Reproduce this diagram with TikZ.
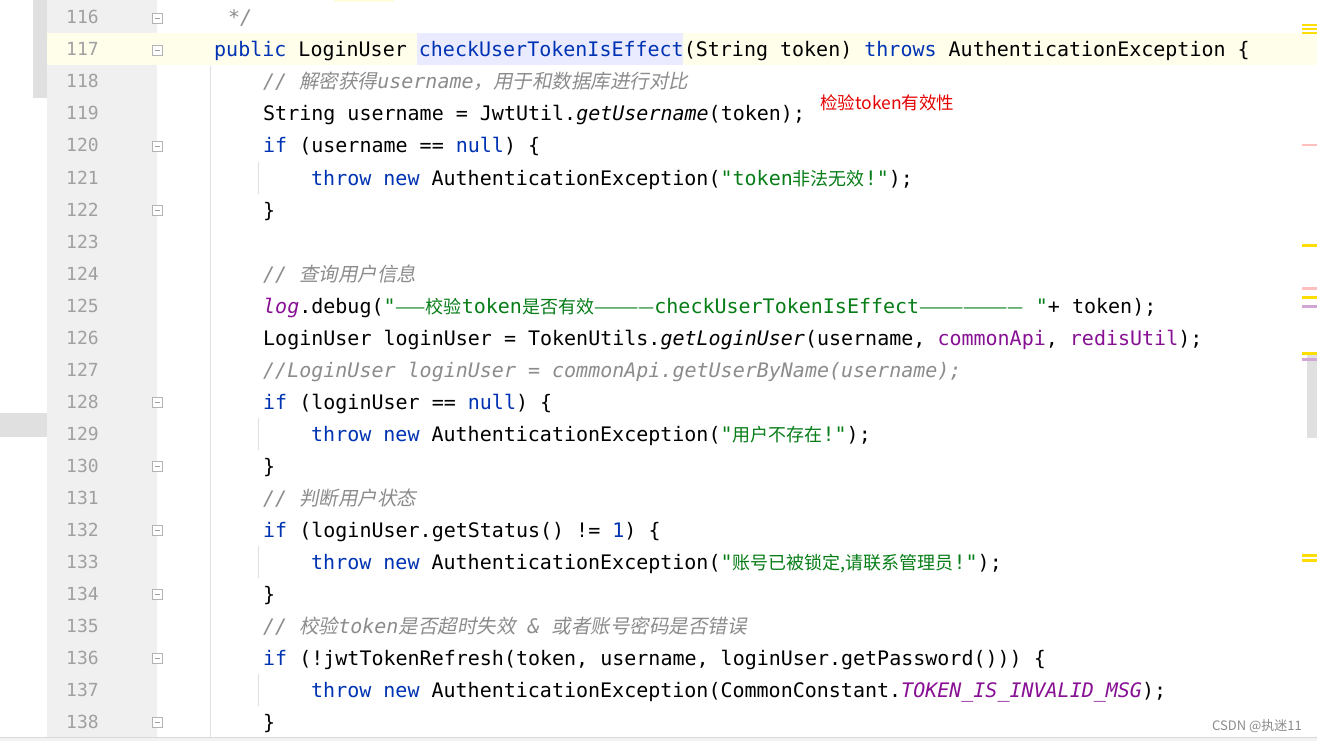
\documentclass[tikz,border=0pt]{standalone}
\usepackage{fontspec}
\setmonofont{DejaVu Sans Mono}
\newfontfamily\cjkf{Noto Sans CJK SC}
\newfontfamily\cjkit[FakeSlant=0.2]{Noto Sans CJK SC}
\definecolor{kwc}{HTML}{0033B3}
\definecolor{strc}{HTML}{067D17}
\definecolor{cmc}{HTML}{8C8C8C}
\definecolor{puc}{HTML}{871094}
\definecolor{lnc}{HTML}{A0A0A0}
\newcommand\kw[1]{\textcolor{kwc}{#1}}
\newcommand\str[1]{\textcolor{strc}{#1}}
\newcommand\pu[1]{\textcolor{puc}{#1}}
\newcommand\cn[1]{{\cjkf\fontsize{18}{20}\selectfont #1}}
\newcommand\cni[1]{{\cjkit\fontsize{19.5}{20}\selectfont #1}}
\begin{document}
\begin{tikzpicture}[x=1pt,y=-1pt,
 code/.style={anchor=base west,inner sep=0pt,font=\ttfamily\fontsize{20}{22}\selectfont},
 cmt/.style={code,text=cmc,font=\ttfamily\itshape\fontsize{20}{22}\selectfont},
 lnum/.style={anchor=base west,inner sep=0pt,text=lnc,font=\ttfamily\fontsize{18}{20}\selectfont},
 fold/.style={draw=lnc!80,fill=white,line width=0.6pt,minimum size=10pt,inner sep=0pt}]
\useasboundingbox (0,0) rectangle (1317,741);
\fill[white] (0,0) rectangle (1317,741);
% gutter
\fill[black!6] (47,0) rectangle (157,741);
\fill[black!12] (33,0) rectangle (47,98);
\fill[black!12] (0,413) rectangle (47,437);
% current line
\fill[yellow!8] (47,33) rectangle (1317,65);
\fill[yellow!12] (334,0) rectangle (394,2);
\fill[blue!8] (417,33) rectangle (683,65);
% indent guides
\draw[black!12,line width=0.8pt] (210,66) -- (210,741);
\foreach \r in {121,129,133,137}{\draw[black!12,line width=0.8pt] (258,{18+(\r-116)*32-16}) -- (258,{18+(\r-116)*32+16});}
% line numbers
\foreach \n in {116,...,138}{\node[lnum] (ln\n) at (66,{18+(\n-116)*32+6}) {\n};}
% fold markers
\foreach \n in {116,117,120,122,128,130,132,134,136,138}{
 \node[fold] (f\n) at (157,{18+(\n-116)*32}) {};
 \draw[lnc] ([xshift=-2.5pt]f\n.center) -- ([xshift=2.5pt]f\n.center);}
% code
\node[cmt] (c116) at (228,25) {*/};
\node[code] (c117) at (214,57) {\kw{public} LoginUser \kw{checkUserTokenIsEffect}(String token) \kw{throws} AuthenticationException \{};
\node[cmt] (c118) at (263,89) {// \cni{解密获得}username\cni{，用于和数据库进行对比}};
\node[code] (c119) at (263,121) {String username = JwtUtil.\textit{getUsername}(token);};
\node[code] (c120) at (263,153) {\kw{if} (username == \kw{null}) \{};
\node[code] (c121) at (311,185) {\kw{throw} \kw{new} AuthenticationException(\str{"token\cn{非法无效}!"});};
\node[code] (c122) at (263,217) {\}};
\node[cmt] (c124) at (263,281) {// \cni{查询用户信息}};
\node[code] (c125) at (263,313) {\pu{\textit{log}}.debug(\str{"\cn{——校验}token\cn{是否有效————}checkUserTokenIsEffect\cn{———————} "}+ token);};
\node[code] (c126) at (263,345) {LoginUser loginUser = TokenUtils.\textit{getLoginUser}(username, \pu{commonApi}, \pu{redisUtil});};
\node[cmt] (c127) at (263,377) {//LoginUser loginUser = commonApi.getUserByName(username);};
\node[code] (c128) at (263,409) {\kw{if} (loginUser == \kw{null}) \{};
\node[code] (c129) at (311,441) {\kw{throw} \kw{new} AuthenticationException(\str{"\cn{用户不存在}!"});};
\node[code] (c130) at (263,473) {\}};
\node[cmt] (c131) at (263,505) {// \cni{判断用户状态}};
\node[code] (c132) at (263,537) {\kw{if} (loginUser.getStatus() != \kw{1}) \{};
\node[code] (c133) at (311,569) {\kw{throw} \kw{new} AuthenticationException(\str{"\cn{账号已被锁定,请联系管理员}!"});};
\node[code] (c134) at (263,601) {\}};
\node[cmt] (c135) at (263,633) {// \cni{校验}token\cni{是否超时失效} \& \cni{或者账号密码是否错误}};
\node[code] (c136) at (263,665) {\kw{if} (!jwtTokenRefresh(token, username, loginUser.getPassword())) \{};
\node[code] (c137) at (311,697) {\kw{throw} \kw{new} AuthenticationException(CommonConstant.\pu{\textit{TOKEN\_IS\_INVALID\_MSG}});};
\node[code] (c138) at (263,729) {\}};
% annotation
\node[anchor=base west,inner sep=0pt,text=red!90!black,font=\cjkf\fontsize{17.5}{20}\selectfont] (note) at (820,110) {检验token有效性};
% scrollbar
\fill[black!12] (1307,355) rectangle (1317,438);
\foreach \y/\c in {24/yellow!80!orange,28/yellow!80!orange,32/yellow!80!orange,144/red!25,244/yellow!80!orange,287/red!25,296/yellow!80!orange,305/violet!35,352/yellow!80!orange,358/violet!35,554/yellow!80!orange,559/yellow!80!orange}
 {\fill[\c] (1302,\y) rectangle (1317,{\y+2.5});}
\draw[black!15] (0,737) -- (1317,737);
\fill[black!5] (0,738) rectangle (1317,741);
\node[anchor=base east,inner sep=0pt,text=black!45,font=\cjkf\fontsize{13}{14}\selectfont] (wm) at (1302,730) {CSDN @执迷11};
\end{tikzpicture}
\end{document}
